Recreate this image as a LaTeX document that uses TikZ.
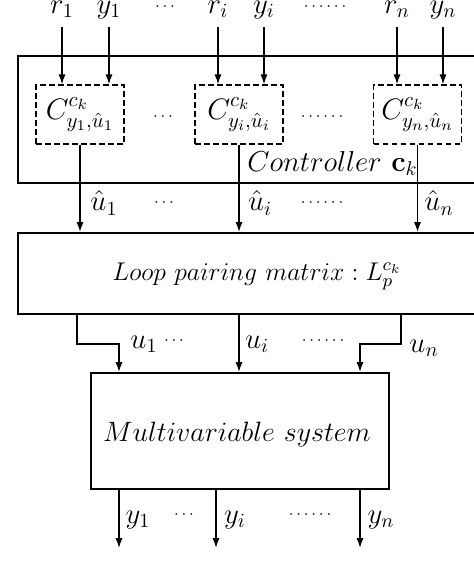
\RequirePackage{fix-cm}
\documentclass[tikz,border=0pt]{standalone}
\usetikzlibrary{positioning,arrows.meta}
\begin{document}
\begin{tikzpicture}
    [
    x=0.5pt,y=-0.5pt,
    font=\fontsize{14.4}{17}\selectfont,
    block/.style={rectangle,draw,line width=1pt,inner sep=0pt},
    ctrlbox/.style={rectangle,draw,line width=0.65pt,dash pattern=on 2.8pt off 1.7pt,inner sep=0pt,minimum width=44pt,minimum height=29.5pt,font=\fontsize{14.8}{17}\selectfont},
    inlbl/.style={inner sep=0pt,anchor=south,text depth=6.5pt},
    sig/.style={inner sep=0pt,anchor=base},
    dots/.style={inner sep=0pt,font=\fontsize{8}{10}\selectfont},
    line/.style={-{Latex[length=5pt,width=3.6pt]},line width=0.7pt}
    ]
    \useasboundingbox (0,0) rectangle (474,577);
    \clip (0,0) rectangle (474,577);
    % blocks
    \node (ctrl) at (254,119.5) [block,minimum width=236pt,minimum height=63.5pt] {};
    \node (loop) at (254,273.5) [block,minimum width=236pt,minimum height=40.5pt] {};
    \node (looptxt) at (257,280) [sig,font=\fontsize{12.8}{15}\selectfont] {$Loop\ pairing\ matrix:L_p^{c_k}$};
    \node (sys) at (240,431) [block,minimum width=149pt,minimum height=58pt] {};
    \node (systxt) at (237,441) [sig,font=\fontsize{14}{17}\selectfont] {$Multivariable\ system$};
    \node (c1) at (80,114.5) [ctrlbox] {$C^{c_k}_{y_1,\hat{u}_1}$};
    \node (ci) at (239,114.5) [ctrlbox] {$C^{c_k}_{y_i,\hat{u}_i}$};
    \node (cn) at (417.5,114.5) [ctrlbox] {$C^{c_k}_{y_n,\hat{u}_n}$};
    \node (ctrllbl) at (247,171) [sig,anchor=base west] {$Controller\ \mathbf{c}_k$};
    \node (cd1) at (163,117) [dots] {$\cdots$};
    \node (cd2) at (322,117) [dots] {$\cdots\cdots$};
    % inputs
    \node (r1) at (62,27) [inlbl] {$r_1$};
    \node (y1) at (109,27) [inlbl] {$y_1$};
    \node (ri) at (218,27) [inlbl] {$r_i$};
    \node (yi) at (264,27) [inlbl] {$y_i$};
    \node (rn) at (397,27) [inlbl] {$r_n$};
    \node (yn) at (443,27) [inlbl] {$y_n$};
    \node (id1) at (165,7) [dots] {$\cdots$};
    \node (id2) at (325,7) [dots] {$\cdots\cdots$};
    % controller outputs
    \node (uh1) at (104,211) [sig] {$\hat{u}_1$};
    \node (uhi) at (260,211) [sig] {$\hat{u}_i$};
    \node (uhn) at (439,211) [sig] {$\hat{u}_n$};
    \node (ud1) at (164,203) [dots] {$\cdots$};
    \node (ud2) at (322,203) [dots] {$\cdots\cdots$};
    % system inputs
    \node (u1) at (144,348) [sig] {$u_1$};
    \node (ui) at (257,348) [sig] {$u_i$};
    \node (un) at (424,352) [sig] {$u_n$};
    \node (sd1) at (174,341) [dots] {$\cdots$};
    \node (sd2) at (323,341) [dots] {$\cdots\cdots$};
    % system outputs
    \node (yo1) at (138,523) [sig] {$y_1$};
    \node (yoi) at (235,523) [sig] {$y_i$};
    \node (yon) at (381,523) [sig] {$y_n$};
    \node (od1) at (184,515) [dots] {$\cdots$};
    \node (od2) at (310,515) [dots] {$\cdots\cdots$};
    \coordinate (p1) at (77,314);
    \coordinate (pi) at (239,314);
    \coordinate (pn) at (401,314);
    \coordinate (o1) at (119,548);
    \coordinate (oi) at (216,548);
    \coordinate (on) at (360,548);
    \draw [line] (r1) to (r1 |- c1.north);
    \draw [line] (y1) to (y1 |- c1.north);
    \draw [line] (ri) to (ri |- ci.north);
    \draw [line] (yi) to (yi |- ci.north);
    \draw [line] (rn) to (rn |- cn.north);
    \draw [line] (yn) to (yn |- cn.north);
    \draw [line] (c1) to (c1 |- loop.north);
    \draw [line] (ci) to (ci |- loop.north);
    \draw [line] (cn) to (cn |- loop.north);
    \draw [line] (p1) -- ++(0,30) -| (sys.north -| o1);
    \draw [line] (pi) -- (pi |- sys.north);
    \draw [line] (pn) -- ++(0,30) -| (sys.north -| on);
    \draw [line] (sys.south -| o1) -- (o1);
    \draw [line] (sys.south -| oi) -- (oi);
    \draw [line] (sys.south -| on) -- (on);
  \end{tikzpicture}
\end{document}
